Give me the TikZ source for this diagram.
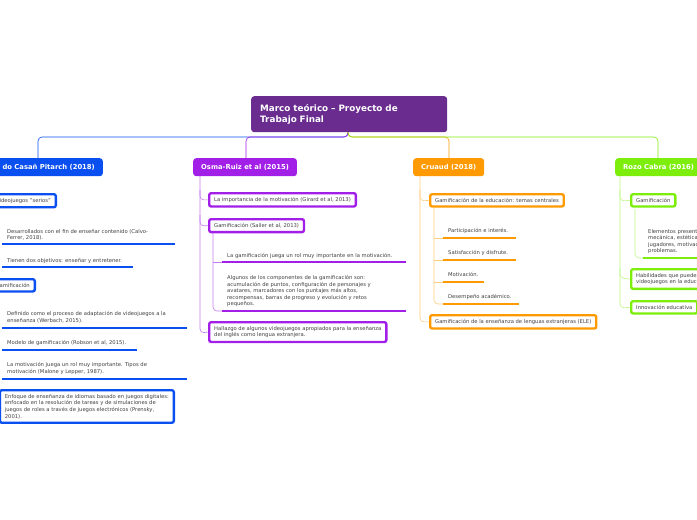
\documentclass[tikz,border=0pt]{standalone}
\usepackage{fontspec}
\setmainfont{DejaVu Sans}
\definecolor{cB}{HTML}{0A4FF0}
\definecolor{cP}{HTML}{A21FE8}
\definecolor{cO}{HTML}{FF9A00}
\definecolor{cG}{HTML}{7DED0C}
\definecolor{cR}{HTML}{6A2D8F}
\tikzset{
 sm/.style={font=\fontsize{5.25}{6.6}\selectfont, text=black!75, align=left, anchor=north west, inner sep=0pt},
 bx/.style={draw=#1, line width=2.4pt, rounded corners=2pt, fill=white, anchor=north west, inner xsep=5pt, inner ysep=4pt, font=\fontsize{5.25}{6.6}\selectfont, text=black!75, align=left},
 br/.style={fill=#1, rounded corners=3pt, anchor=north west, minimum height=18pt, inner xsep=8pt, font=\bfseries\fontsize{6.8}{8}\selectfont, text=white},
 ln/.style={draw=#1, line width=0.6pt, rounded corners=4pt},
 ul/.style={draw=#1, line width=2.4pt},
}
\begin{document}
\begin{tikzpicture}[x=1pt,y=-1pt]
\useasboundingbox (0,0) rectangle (697,520);
% root
\node[fill=cR, rounded corners=3pt, anchor=north west, minimum width=194pt, minimum height=36pt, text width=178pt, inner xsep=9pt, font=\bfseries\fontsize{8.8}{11}\selectfont, text=white, align=left] (root) at (251,96) {Marco teórico – Proyecto de\\Trabajo Final};
% branches
\node[br=cB, anchor=north east] (b1) at (103,158) {do Casañ Pitarch (2018)};
\node[br=cP] (b2) at (193,158) {Osma-Ruiz et al (2015)};
\node[br=cO] (b3) at (413,158) {Cruaud (2018)};
\node[br=cG] (b4) at (615,158) {Rozo Cabra (2016)};
\coordinate (r0) at (348,132);
\draw[ln=cB] (r0) -- (348,137) -- (38,137) -- (38,158);
\draw[ln=cP] (r0) -- (348,137) -- (246,137) -- (246,158);
\draw[ln=cO] (r0) -- (348,137) -- (449,137) -- (449,158);
\draw[ln=cG] (r0) -- (348,137) -- (658,137) -- (658,158);
% blue children
\node[bx=cB, anchor=north east] (c11) at (57,193) {Videojuegos "serios"};
\node[sm] (t11) at (7,229) {Desarrollados con el fin de enseñar contenido (Calvo-\\Ferrer, 2018).};
\draw[ul=cB] (2,244) -- (175,244);
\node[sm] (t12) at (7,258) {Tienen dos objetivos: enseñar y entretener.};
\draw[ul=cB] (2,267) -- (133,267);
\node[bx=cB, anchor=north east] (c12) at (36,278) {Gamificación};
\node[sm] (t13) at (7,311) {Definido como el proceso de adaptación de videojuegos a la\\enseñanza (Werbach, 2015).};
\draw[ul=cB] (2,328) -- (187,328);
\node[sm] (t14) at (7,340) {Modelo de gamificación (Robson et al, 2015).};
\draw[ul=cB] (2,350) -- (137,350);
\node[sm] (t15) at (7,362) {La motivación juega un rol muy importante. Tipos de\\motivación (Malone y Lepper, 1987).};
\draw[ul=cB] (2,379) -- (187,379);
\node[bx=cB, anchor=north east] (c13) at (175,389) {Enfoque de enseñanza de idiomas basado en juegos digitales:\\enfocado en la resolución de tareas y de simulaciones de\\juegos de roles a través de juegos electrónicos (Prensky,\\2001).};
% purple children
\node[bx=cP] (c21) at (208,192) {La importancia de la motivación (Girard et al, 2013)};
\node[bx=cP] (c22) at (208,218) {Gamificación (Sailer et al, 2013)};
\node[bx=cP] (c23) at (208,321) {Hallazgo de algunos videojuegos apropiados para la enseñanza\\del inglés como lengua extranjera.};
\draw[ln=cP!60] (200,176) -- (200,333) -- (c23.west);
\draw[ln=cP!60] (200,190) -- (200,200) -- (c21.west);
\draw[ln=cP!60] (200,215) -- (200,226) -- (c22.west);
\node[sm] (t21) at (227,253) {La gamificación juega un rol muy importante en la motivación.};
\draw[ul=cP] (222,262) -- (406,262);
\node[sm] (t22) at (227,275) {Algunos de los componentes de la gamificación son:\\acumulación de puntos, configuración de personajes y\\avatares, marcadores con los puntajes más altos,\\recompensas, barras de progreso y evolución y retos\\pequeños.};
\draw[ul=cP] (222,311) -- (406,311);
\draw[ln=cP!60] (213,233) -- (213,311) -- (222,311);
\draw[ln=cP!60] (213,262) -- (222,262);
% orange children
\node[bx=cO] (c31) at (429,193) {Gamificación de la educación: temas centrales};
\node[bx=cO] (c32) at (429,314) {Gamificación de la enseñanza de lenguas extranjeras (ELE)};
\draw[ln=cO!50] (420,176) -- (420,322) -- (c32.west);
\draw[ln=cO!50] (420,190) -- (420,201) -- (c31.west);
\node[sm] (t31) at (448,228) {Participación e interés.};
\draw[ul=cO] (443,238) -- (516,238);
\node[sm] (t32) at (448,250) {Satisfacción y disfrute.};
\draw[ul=cO] (443,260) -- (516,260);
\node[sm] (t33) at (448,272) {Motivación.};
\draw[ul=cO] (443,282) -- (484,282);
\node[sm] (t34) at (448,294) {Desempeño académico.};
\draw[ul=cO] (443,304) -- (519,304);
\draw[ln=cO!50] (434,208) -- (434,304) -- (443,304);
\foreach \yy in {238,260,282} \draw[ln=cO!50] (434,\yy) -- (443,\yy);
% green children
\node[bx=cG] (c41) at (630,193) {Gamificación};
\node[bx=cG] (c42) at (630,268) {Habilidades que pueden desarrollar los\\videojuegos en la educación};
\node[bx=cG] (c43) at (630,300) {Innovación educativa};
\draw[ln=cG!50] (620,176) -- (620,308) -- (c43.west);
\draw[ln=cG!50] (620,190) -- (620,201) -- (c41.west);
\draw[ln=cG!50] (620,268) -- (620,278) -- (c42.west);
\node[sm] (t41) at (648,229) {Elementos presentes en la\\mecánica, estética, los\\jugadores, motivación y\\problemas.};
\draw[ul=cG] (643,258) -- (700,258);
\draw[ln=cG!50] (635,209) -- (635,258) -- (643,258);
\end{tikzpicture}
\end{document}
